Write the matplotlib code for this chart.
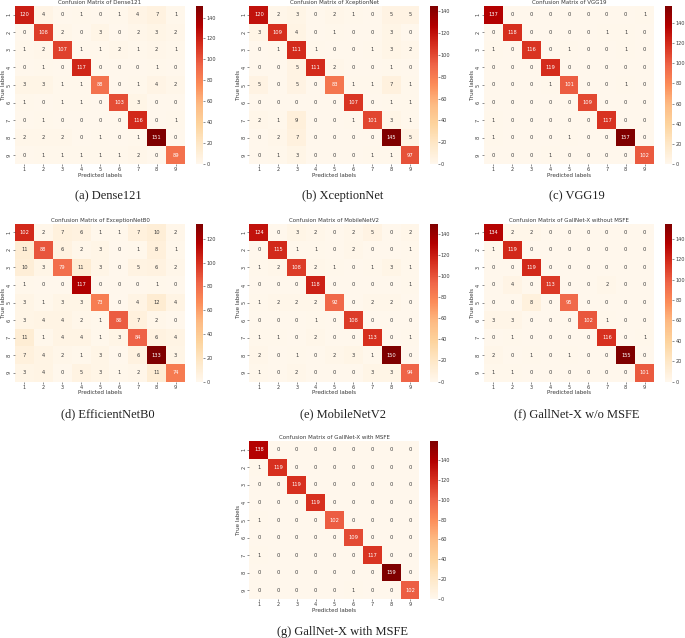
import numpy as np
import matplotlib
import matplotlib.pyplot as plt

matplotlib.use("Agg")

W, H = 685, 638
labels = ["1", "2", "3", "4", "5", "6", "7", "8", "9"]

dense121 = [
    [120, 4, 0, 1, 0, 1, 4, 7, 1],
    [0, 108, 2, 0, 3, 0, 2, 3, 2],
    [1, 2, 107, 1, 1, 2, 1, 2, 1],
    [0, 1, 0, 117, 0, 0, 0, 1, 0],
    [3, 3, 1, 1, 88, 0, 1, 4, 2],
    [1, 0, 1, 1, 0, 103, 3, 0, 0],
    [0, 1, 0, 0, 0, 0, 116, 0, 1],
    [2, 2, 2, 0, 1, 0, 1, 151, 0],
    [0, 1, 1, 1, 1, 1, 2, 0, 89],
]
xception = [
    [120, 2, 3, 0, 2, 1, 0, 5, 5],
    [3, 109, 4, 0, 1, 0, 0, 3, 0],
    [0, 1, 111, 1, 0, 0, 1, 3, 2],
    [0, 0, 5, 111, 2, 0, 0, 1, 0],
    [5, 0, 5, 0, 83, 1, 1, 7, 1],
    [0, 0, 0, 0, 0, 107, 0, 1, 1],
    [2, 1, 9, 0, 0, 1, 101, 3, 1],
    [0, 2, 7, 0, 0, 0, 0, 145, 5],
    [0, 1, 3, 0, 0, 0, 1, 1, 97],
]
vgg19 = [
    [137, 0, 0, 0, 0, 0, 0, 0, 1],
    [0, 118, 0, 0, 0, 0, 1, 1, 0],
    [1, 0, 116, 0, 1, 0, 0, 1, 0],
    [0, 0, 0, 119, 0, 0, 0, 0, 0],
    [0, 0, 0, 1, 101, 0, 0, 1, 0],
    [0, 0, 0, 0, 0, 109, 0, 0, 0],
    [1, 0, 0, 0, 0, 0, 117, 0, 0],
    [1, 0, 0, 0, 1, 0, 0, 157, 0],
    [0, 0, 0, 1, 0, 0, 0, 0, 102],
]
efficientnet = [
    [102, 2, 7, 6, 1, 1, 7, 10, 2],
    [11, 88, 6, 2, 3, 0, 1, 8, 1],
    [10, 3, 79, 11, 3, 0, 5, 6, 2],
    [1, 0, 0, 117, 0, 0, 0, 1, 0],
    [3, 1, 3, 3, 73, 0, 4, 12, 4],
    [3, 4, 4, 2, 1, 86, 7, 2, 0],
    [11, 1, 4, 4, 1, 3, 84, 6, 4],
    [7, 4, 2, 1, 3, 0, 6, 133, 3],
    [3, 4, 0, 5, 3, 1, 2, 11, 74],
]
mobilenet = [
    [124, 0, 3, 2, 0, 2, 5, 0, 2],
    [0, 115, 1, 1, 0, 2, 0, 0, 1],
    [1, 2, 108, 2, 1, 0, 1, 3, 1],
    [0, 0, 0, 118, 0, 0, 0, 0, 1],
    [1, 2, 2, 2, 92, 0, 2, 2, 0],
    [0, 0, 0, 1, 0, 108, 0, 0, 0],
    [1, 1, 0, 2, 0, 0, 113, 0, 1],
    [2, 0, 1, 0, 2, 3, 1, 150, 0],
    [1, 0, 2, 0, 0, 0, 3, 3, 94],
]
gallnet_wo = [
    [134, 2, 2, 0, 0, 0, 0, 0, 0],
    [1, 119, 0, 0, 0, 0, 0, 0, 0],
    [0, 0, 119, 0, 0, 0, 0, 0, 0],
    [0, 4, 0, 113, 0, 0, 2, 0, 0],
    [0, 0, 8, 0, 95, 0, 0, 0, 0],
    [3, 3, 0, 0, 0, 102, 1, 0, 0],
    [0, 1, 0, 0, 0, 0, 116, 0, 1],
    [2, 0, 1, 0, 1, 0, 0, 155, 0],
    [1, 1, 0, 0, 0, 0, 0, 0, 101],
]
gallnet_with = [
    [138, 0, 0, 0, 0, 0, 0, 0, 0],
    [1, 119, 0, 0, 0, 0, 0, 0, 0],
    [0, 0, 119, 0, 0, 0, 0, 0, 0],
    [0, 0, 0, 119, 0, 0, 0, 0, 0],
    [1, 0, 0, 0, 102, 0, 0, 0, 0],
    [0, 0, 0, 0, 0, 109, 0, 0, 0],
    [1, 0, 0, 0, 0, 0, 117, 0, 0],
    [0, 0, 0, 0, 0, 0, 0, 159, 0],
    [0, 0, 0, 0, 0, 1, 0, 0, 102],
]

TEXT = "#3a3a3a"


def luminance(rgb):
    rgb = np.array(rgb[:3])
    lin = np.where(rgb <= 0.03928, rgb / 12.92, ((rgb + 0.055) / 1.055) ** 2.4)
    return lin.dot([0.2126, 0.7152, 0.0722])


def add_box(fig, x0, y0, x1, y1):
    # pixel box from the top left corner of the picture
    return fig.add_axes([x0 / W, 1 - y1 / H, (x1 - x0) / W, (y1 - y0) / H])


def draw_matrix(fig, data, title, caption, x0, y0):
    data = np.array(data)
    x1, y1 = x0 + 170, y0 + 158
    ax = add_box(fig, x0, y0, x1, y1)
    mesh = ax.pcolormesh(data, cmap="OrRd", vmin=0, vmax=data.max())
    ax.set_xlim(0, 9)
    ax.set_ylim(9, 0)

    for i in range(9):
        for j in range(9):
            color = "white" if luminance(mesh.cmap(mesh.norm(data[i, j]))) < 0.408 else TEXT
            ax.text(j + 0.5, i + 0.5, str(data[i, j]), ha="center", va="center",
                    fontsize=3.7, color=color)

    ticks = np.arange(9) + 0.5
    ax.set_xticks(ticks, labels)
    ax.set_yticks(ticks, labels, rotation=90, va="center")
    ax.tick_params(labelsize=3.6, length=1.2, width=0.4, pad=1, color=TEXT, labelcolor=TEXT)
    for s in ax.spines.values():
        s.set_visible(False)
    ax.set_xlabel("Predicted labels", fontsize=4.1, color=TEXT, labelpad=0.4)
    ax.set_ylabel("True labels", fontsize=4.1, color=TEXT, labelpad=0.4)
    ax.set_title(title, fontsize=4, color=TEXT, pad=1.2)

    cax = add_box(fig, x1 + 10.5, y0, x1 + 18, y1)
    cbar = fig.colorbar(mesh, cax=cax)
    cbar.set_ticks(np.arange(0, data.max() + 1, 20))
    cbar.ax.tick_params(labelsize=3.6, length=1.2, width=0.4, pad=1.2, color=TEXT, labelcolor=TEXT)
    cbar.outline.set_visible(False)

    fig.text((x0 + x1 + 16) / 2 / W, 1 - (y1 + 32.5) / H, caption, ha="center", va="center",
             family="Liberation Serif", fontsize=9, color="#222222")


fig = plt.figure(figsize=(W / 100, H / 100), dpi=100)

draw_matrix(fig, dense121, "Confusion Matrix of Dense121", "(a) Dense121", 15, 6)
draw_matrix(fig, xception, "Confusion Matrix of XceptionNet", "(b) XceptionNet", 249.5, 6)
draw_matrix(fig, vgg19, "Confusion Matrix of VGG19", "(c) VGG19", 484, 6)
draw_matrix(fig, efficientnet, "Confusion Matrix of ExceptionNetB0", "(d) EfficientNetB0", 15, 223.5)
draw_matrix(fig, mobilenet, "Confusion Matrix of MobileNetV2", "(e) MobileNetV2", 249.5, 223.5)
draw_matrix(fig, gallnet_wo, "Confusion Matrix of GallNet-X without MSFE", "(f) GallNet-X w/o MSFE", 484, 223.5)
draw_matrix(fig, gallnet_with, "Confusion Matrix of GallNet-X with MSFE", "(g) GallNet-X with MSFE", 249.5, 441)

fig.savefig("out.png", dpi=100)
